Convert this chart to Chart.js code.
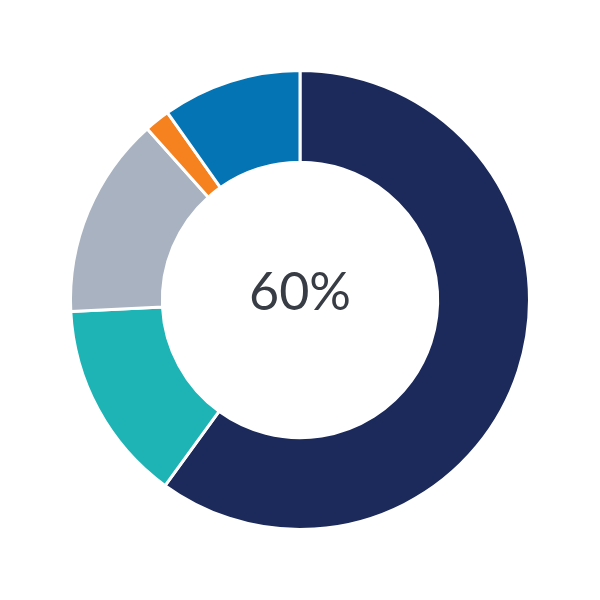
<!DOCTYPE html>
<html>
<head>
<meta charset="utf-8">
<script src="https://cdn.jsdelivr.net/npm/chart.js@4"></script>
<style>
    html, body { margin: 0; padding: 0; background: #ffffff; }
    .chart_box { position: relative; width: 600px; height: 600px; }
</style>
</head>
<body>
<div class="chart_box"><canvas id="share_chart"></canvas></div>
<script>
// Data
const categories = ["Segment A", "Segment B", "Segment C", "Segment D", "Segment E"];
const shares = [60, 14.2, 14.2, 1.8, 9.8];
const slice_colors = ["#1b2a5a", "#1eb4b6", "#a8b2c0", "#f5821f", "#0574b4"];
const center_label = "60%";

document.addEventListener("DOMContentLoaded", function () {
    const share_chart = document.querySelector("#share_chart");
    // Center Text Plugin
    const center_text = {
        id: "centerText",
        afterDraw: (chart) => {
            const { ctx } = chart;
            const meta = chart.getDatasetMeta(0).data[0];
            ctx.save();
            ctx.font = "400 52px Lato";
            ctx.fillStyle = "#383d45";
            ctx.textAlign = "center";
            ctx.textBaseline = "alphabetic";
            ctx.fillText(center_label, meta.x, meta.y + 10);
            ctx.restore();
        }
    };
    new Chart(share_chart, {
        type: "doughnut",
        data: {
            labels: categories,
            datasets: [{
                data: shares,
                backgroundColor: slice_colors,
                borderColor: "#ffffff",
                borderWidth: 3,
            }]
        },
        options: {
            animation: false,
            responsive: true,
            maintainAspectRatio: false,
            cutout: "60%",
            layout: {
                padding: 69,
            },
            plugins: {
                legend: { display: false },
                tooltip: { enabled: false },
            },
        },
        plugins: [center_text],
    });
});
</script>
</body>
</html>
